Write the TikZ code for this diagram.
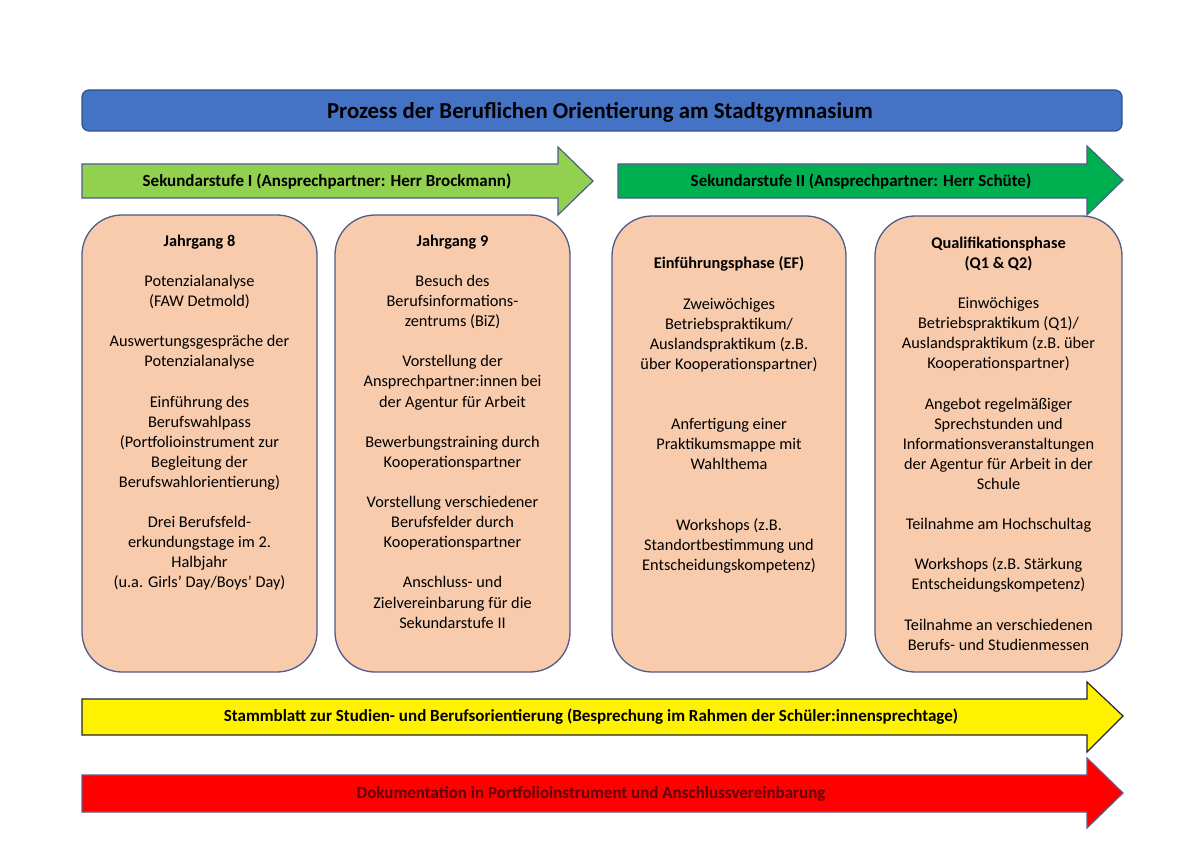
\documentclass[tikz,border=0pt]{standalone}
\usepackage{fontspec}
\setmainfont{Carlito}
\definecolor{titleblue}{HTML}{4472C4}
\definecolor{titleline}{HTML}{2F528F}
\definecolor{lgreen}{HTML}{92D050}
\definecolor{dgreen}{HTML}{00B050}
\definecolor{boxfill}{HTML}{F8CBAD}
\definecolor{boxline}{HTML}{4F5C8C}
\definecolor{redtext}{HTML}{640008}
\definecolor{redline}{HTML}{6A5A8A}
\tikzset{
  boxshape/.style={draw=boxline, fill=boxfill, line width=1.3pt, rounded corners=40pt},
  boxtext/.style={anchor=north, inner sep=0pt, align=center, font=\fontsize{16.3}{20.1}\selectfont},
  arrowtext/.style={inner sep=0pt, font=\bfseries\fontsize{17}{20}\selectfont},
  arrowshape/.style={draw=boxline, line width=1.2pt, line join=miter},
}
\begin{document}
\begin{tikzpicture}[x=1pt,y=-1pt]
\useasboundingbox (0,0) rectangle (1200,848);
\fill[white] (0,0) rectangle (1200,848);
% title
\draw[draw=titleline, fill=titleblue, line width=1.2pt, rounded corners=7pt] (82,90) rectangle (1122,131);
\node[inner sep=0pt, font=\bfseries\fontsize{22.8}{26}\selectfont] (title) at (600,112) {Prozess der Beruflichen Orientierung am Stadtgymnasium};
% green arrows
\draw[arrowshape, fill=lgreen] (82,164) -- (558,164) -- (558,147) -- (593,181) -- (558,215) -- (558,198) -- (82,198) -- cycle;
\node[arrowtext] (sek1) at (327,182) {Sekundarstufe I (Ansprechpartner: Herr Brockmann)};
\draw[arrowshape, fill=dgreen] (618,164) -- (1087,164) -- (1087,146) -- (1123,180) -- (1087,215) -- (1087,198) -- (618,198) -- cycle;
\node[arrowtext] (sek2) at (861,182) {Sekundarstufe II (Ansprechpartner: Herr Schüte)};
% boxes
\draw[boxshape] (82,215) rectangle (317,672);
\draw[boxshape] (335,215) rectangle (570,672);
\draw[boxshape] (612,216) rectangle (846,672);
\draw[boxshape] (875,216) rectangle (1122,672);
\node[boxtext] (j8) at (199.5,232) {\strut\textbf{Jahrgang 8}\\[20.1pt]
Potenzialanalyse\\(FAW Detmold)\\[20.1pt]
Auswertungsgespräche der\\Potenzialanalyse\\[20.1pt]
Einführung des\\Berufswahlpass\\(Portfolioinstrument zur\\Begleitung der\\Berufswahlorientierung)\\[20.1pt]
Drei Berufsfeld-\\erkundungstage im 2.\\Halbjahr\\(u.a. Girls’ Day/Boys’ Day)};
\node[boxtext] (j9) at (452.5,232) {\strut\textbf{Jahrgang 9}\\[20.1pt]
Besuch des\\Berufsinformations-\\zentrums (BiZ)\\[20.1pt]
Vorstellung der\\Ansprechpartner:innen bei\\der Agentur für Arbeit\\[20.1pt]
Bewerbungstraining durch\\Kooperationspartner\\[20.1pt]
Vorstellung verschiedener\\Berufsfelder durch\\Kooperationspartner\\[20.1pt]
Anschluss- und\\Zielvereinbarung für die\\Sekundarstufe II};
\node[boxtext] (ef) at (729,254.6) {\strut\textbf{Einführungsphase (EF)}\\[20.1pt]
Zweiwöchiges\\Betriebspraktikum/\\Auslandspraktikum (z.B.\\über Kooperationspartner)\\[40.2pt]
Anfertigung einer\\Praktikumsmappe mit\\Wahlthema\\[40.2pt]
Workshops (z.B.\\Standortbestimmung und\\Entscheidungskompetenz)};
\node[boxtext] (q) at (998.5,234) {\strut\textbf{Qualifikationsphase}\\\textbf{(Q1 \& Q2)}\\[20.1pt]
Einwöchiges\\Betriebspraktikum (Q1)/\\Auslandspraktikum (z.B. über\\Kooperationspartner)\\[20.1pt]
Angebot regelmäßiger\\Sprechstunden und\\Informationsveranstaltungen\\der Agentur für Arbeit in der\\Schule\\[20.1pt]
Teilnahme am Hochschultag\\[20.1pt]
Workshops (z.B. Stärkung\\Entscheidungskompetenz)\\[20.1pt]
Teilnahme an verschiedenen\\Berufs- und Studienmessen};
% yellow arrow
\draw[draw=black!85, line width=1.2pt, fill=yellow] (82,699) -- (1087,699) -- (1087,682) -- (1123,716) -- (1087,752) -- (1087,735) -- (82,735) -- cycle;
\node[arrowtext] (stamm) at (591,717) {Stammblatt zur Studien- und Berufsorientierung (Besprechung im Rahmen der Schüler:innensprechtage)};
% red arrow
\draw[draw=redline, line width=1.2pt, fill=red] (82,775) -- (1087,775) -- (1087,758) -- (1123,793) -- (1087,828) -- (1087,812) -- (82,812) -- cycle;
\node[arrowtext, text=redtext] (doku) at (591,794) {Dokumentation in Portfolioinstrument und Anschlussvereinbarung};
\end{tikzpicture}
\end{document}
